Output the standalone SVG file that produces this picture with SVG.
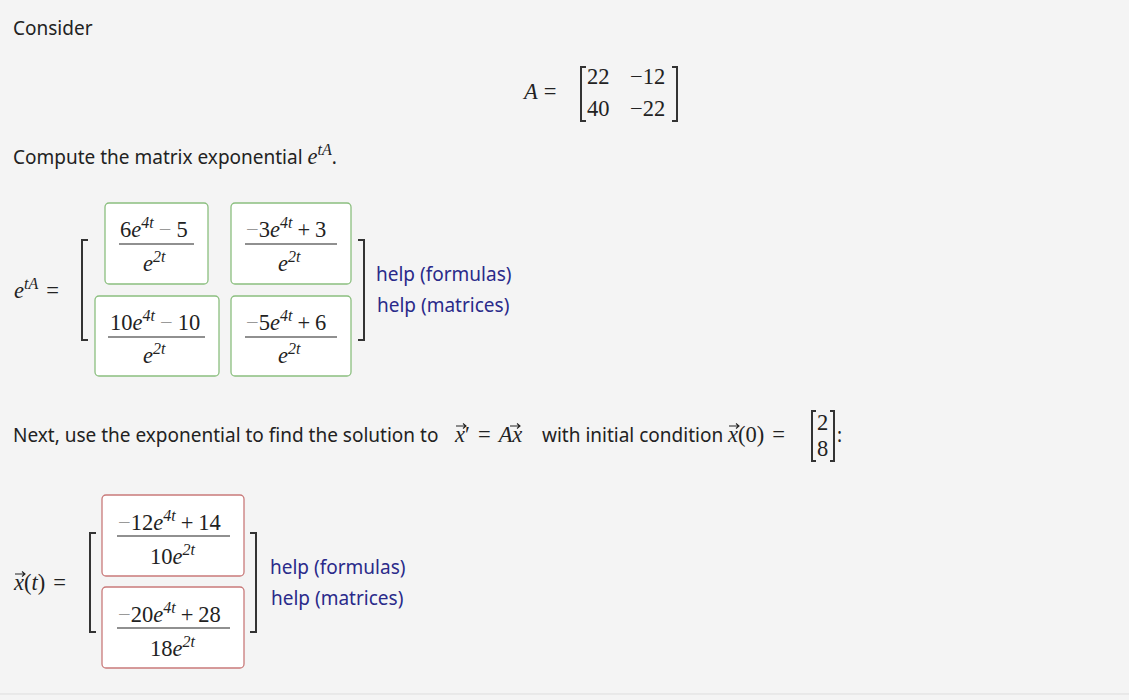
<svg xmlns="http://www.w3.org/2000/svg" width="1129" height="700" viewBox="0 0 1129 700">
<style>
.t{font-family:"Noto Sans","Open Sans",sans-serif;font-size:19px;fill:#222}
.h{font-family:"Noto Sans","Open Sans",sans-serif;font-size:19px;fill:#2a2a8a}
.m{font-family:"Liberation Serif",serif;font-size:22.5px;fill:#222}
.i{font-style:italic}
.s{font-size:16px}
.g{fill:#999}
.bx{fill:#fff;stroke:#8bbf7f;stroke-width:1.3}
.rx{fill:#fff;stroke:#c97a7a;stroke-width:1.3}
.br{fill:none;stroke:#333;stroke-width:2}
.ln{stroke:#222;stroke-width:1.2}
.ar{fill:none;stroke:#222;stroke-width:1.1}
</style>
<rect width="1129" height="700" fill="#f4f4f4"/>
<line x1="0" y1="694" x2="1129" y2="694" stroke="#ddd"/>
<text class="t" x="13" y="35">Consider</text>
<text class="m" x="524" y="99"><tspan class="i">A</tspan><tspan dx="6">=</tspan></text>
<path class="br" d="M586,67 h-5 v54 h5 M672,67 h5 v54 h-5"/>
<text class="m" x="587" y="84">22</text><text class="m" x="630" y="84">−12</text>
<text class="m" x="587" y="116">40</text><text class="m" x="630" y="116">−22</text>
<text class="t" x="13" y="164">Compute the matrix exponential <tspan class="m i">e</tspan><tspan class="m i s" dy="-9">tA</tspan><tspan dy="9">.</tspan></text>
<text class="m" x="14" y="298"><tspan class="i">e</tspan><tspan class="i s" dy="-9">tA</tspan><tspan dy="9" dx="8">=</tspan></text>
<path class="br" d="M88,240 h-6 v100 h6 M358,240 h6 v100 h-6"/>
<g id="e11"><rect class="bx" x="105" y="203" width="103" height="81" rx="4"/>
<text class="m" x="120" y="237">6<tspan class="i">e</tspan><tspan class="i s" dy="-9">4t</tspan><tspan dy="9" dx="5" class="g">−</tspan><tspan dx="5">5</tspan></text>
<line class="ln" x1="119" y1="244" x2="194" y2="244"/>
<text class="m" x="143" y="271"><tspan class="i">e</tspan><tspan class="i s" dy="-9">2t</tspan></text></g>
<g id="e12"><rect class="bx" x="231" y="203" width="120" height="81" rx="4"/>
<text class="m" x="246" y="237"><tspan class="g">−</tspan>3<tspan class="i">e</tspan><tspan class="i s" dy="-9">4t</tspan><tspan dy="9" dx="5">+</tspan><tspan dx="5">3</tspan></text>
<line class="ln" x1="245" y1="244" x2="337" y2="244"/>
<text class="m" x="278" y="271"><tspan class="i">e</tspan><tspan class="i s" dy="-9">2t</tspan></text></g>
<g id="e21"><rect class="bx" x="95" y="296" width="124" height="80" rx="4"/>
<text class="m" x="110" y="330">10<tspan class="i">e</tspan><tspan class="i s" dy="-9">4t</tspan><tspan dy="9" dx="5" class="g">−</tspan><tspan dx="5">10</tspan></text>
<line class="ln" x1="108" y1="337" x2="205" y2="337"/>
<text class="m" x="143" y="363"><tspan class="i">e</tspan><tspan class="i s" dy="-9">2t</tspan></text></g>
<g id="e22"><rect class="bx" x="231" y="296" width="120" height="80" rx="4"/>
<text class="m" x="246" y="330"><tspan class="g">−</tspan>5<tspan class="i">e</tspan><tspan class="i s" dy="-9">4t</tspan><tspan dy="9" dx="5">+</tspan><tspan dx="5">6</tspan></text>
<line class="ln" x1="245" y1="337" x2="337" y2="337"/>
<text class="m" x="278" y="363"><tspan class="i">e</tspan><tspan class="i s" dy="-9">2t</tspan></text></g>
<text class="h" x="376" y="281">help (formulas)</text>
<text class="h" x="377" y="312">help (matrices)</text>
<text class="t" x="13" y="442">Next, use the exponential to find the solution to</text>
<text class="m" x="455" y="442"><tspan class="i">x</tspan>′<tspan dx="8">=</tspan><tspan class="i" dx="8">Ax</tspan></text>
<path class="ar" d="M456,426 h10 M463,423.5 l3,2.5 l-3,2.5 M510,426 h10 M517,423.5 l3,2.5 l-3,2.5"/>
<text class="t" x="542" y="442">with initial condition</text>
<text class="m" x="728" y="442"><tspan class="i">x</tspan>(0)<tspan dx="8">=</tspan></text>
<path class="ar" d="M729,426 h10 M736,423.5 l3,2.5 l-3,2.5"/>
<path class="br" d="M816,411 h-4 v50 h4 M830,411 h4 v50 h-4"/>
<text class="m" x="817" y="430" font-size="17">2</text>
<text class="m" x="817" y="456" font-size="17">8</text>
<text class="t" x="837" y="442">:</text>
<text class="m" x="14" y="590"><tspan class="i">x</tspan>(<tspan class="i">t</tspan>)<tspan dx="8">=</tspan></text>
<path class="ar" d="M15,574 h10 M22,571.5 l3,2.5 l-3,2.5"/>
<path class="br" d="M96,533 h-6 v99 h6 M250,533 h6 v99 h-6"/>
<g id="x1"><rect class="rx" x="102" y="495" width="142" height="81" rx="4"/>
<text class="m" x="118" y="530"><tspan class="g">−</tspan>12<tspan class="i">e</tspan><tspan class="i s" dy="-9">4t</tspan><tspan dy="9" dx="5">+</tspan><tspan dx="5">14</tspan></text>
<line class="ln" x1="117" y1="536" x2="230" y2="536"/>
<text class="m" x="150" y="564">10<tspan class="i">e</tspan><tspan class="i s" dy="-9">2t</tspan></text></g>
<g id="x2"><rect class="rx" x="102" y="587" width="142" height="81" rx="4"/>
<text class="m" x="118" y="622"><tspan class="g">−</tspan>20<tspan class="i">e</tspan><tspan class="i s" dy="-9">4t</tspan><tspan dy="9" dx="5">+</tspan><tspan dx="5">28</tspan></text>
<line class="ln" x1="117" y1="628" x2="230" y2="628"/>
<text class="m" x="150" y="656">18<tspan class="i">e</tspan><tspan class="i s" dy="-9">2t</tspan></text></g>
<text class="h" x="270" y="574">help (formulas)</text>
<text class="h" x="271" y="605">help (matrices)</text>
</svg>
